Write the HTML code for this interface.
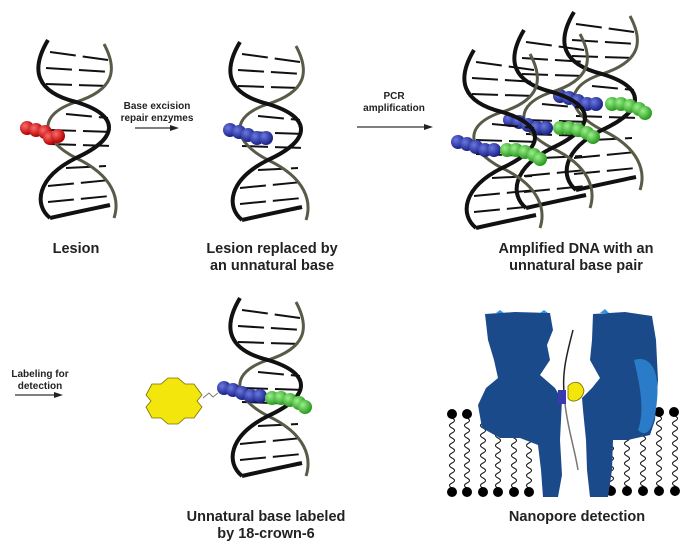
<!DOCTYPE html>
<html><head><meta charset="utf-8"><style>
html,body{margin:0;padding:0;background:#fff}
svg{display:block}
text{font-family:"Liberation Sans",sans-serif;font-weight:bold;fill:#222}
</style></head><body>
<svg width="700" height="557" viewBox="0 0 700 557" xmlns="http://www.w3.org/2000/svg">
<defs>
<radialGradient id="rd" cx="35%" cy="35%" r="65%"><stop offset="0" stop-color="#ff6a6a"/><stop offset="1" stop-color="#b00000"/></radialGradient>
<radialGradient id="bl" cx="35%" cy="35%" r="65%"><stop offset="0" stop-color="#6a78e0"/><stop offset="1" stop-color="#1a2288"/></radialGradient>
<radialGradient id="gr" cx="35%" cy="35%" r="65%"><stop offset="0" stop-color="#9af08a"/><stop offset="1" stop-color="#2a9a20"/></radialGradient>
<g id="helix">
 <g stroke="#111" stroke-width="2" stroke-dasharray="26 7">
  <line x1="14" y1="12" x2="72" y2="20"/><line x1="10" y1="28" x2="74" y2="32"/><line x1="10" y1="44" x2="72" y2="46"/>
  <line x1="30" y1="74" x2="72" y2="78"/><line x1="14" y1="90" x2="78" y2="92"/><line x1="14" y1="104" x2="76" y2="106"/>
  <line x1="30" y1="128" x2="70" y2="126"/><line x1="12" y1="146" x2="74" y2="140"/><line x1="12" y1="162" x2="74" y2="156"/>
 </g>
 <path d="M68,4 C82,30 78,50 40,62 C0,75 5,100 40,118 C78,136 84,160 78,178" fill="none" stroke="#5a5a48" stroke-width="3"/>
 <path d="M12,0 C-6,30 0,52 40,62 C84,75 84,98 40,118 C0,138 -2,165 14,178 M14,178 C40,172 60,168 74,165" fill="none" stroke="#111" stroke-width="4"/>
</g>
<g id="sb"><circle cx="0" cy="0" r="7" fill="url(#bl)"/><circle cx="9" cy="2" r="7" fill="url(#bl)"/><circle cx="18" cy="5" r="7" fill="url(#bl)"/><circle cx="27" cy="8" r="7" fill="url(#bl)"/><circle cx="36" cy="8" r="7" fill="url(#bl)"/></g>
<g id="sg"><circle cx="0" cy="0" r="7" fill="url(#gr)"/><circle cx="9" cy="0" r="7" fill="url(#gr)"/><circle cx="18" cy="2" r="7" fill="url(#gr)"/><circle cx="27" cy="5" r="7" fill="url(#gr)"/><circle cx="33" cy="9" r="7" fill="url(#gr)"/></g>
<path id="tail" d="M0,0 q5,2.5 0,5 q-5,2.5 0,5 q5,2.5 0,5 q-5,2.5 0,5 q5,2.5 0,5 q-5,2.5 0,5 q5,2.5 0,5 q-5,2.5 0,5 q5,2.5 0,5 q-5,2.5 0,5 q5,2.5 0,5 q-5,2.5 0,5 q5,2.5 0,5 q-5,2.5 0,5 q5,2.5 0,5" fill="none" stroke="#111" stroke-width="1"/>
</defs>

<!-- helix 1 -->
<use href="#helix" transform="translate(36,40)"/>
<g><circle cx="27" cy="128" r="7" fill="url(#rd)"/><circle cx="36" cy="130" r="7" fill="url(#rd)"/><circle cx="45" cy="132" r="7" fill="url(#rd)"/><circle cx="50" cy="138" r="7" fill="url(#rd)"/><circle cx="58" cy="136" r="7" fill="url(#rd)"/></g>
<!-- helix 2 -->
<use href="#helix" transform="translate(228,42)"/>
<use href="#sb" transform="translate(230,130)"/>
<!-- helix 3 group -->
<use href="#helix" transform="translate(562,12)"/>
<use href="#sb" transform="translate(560,96)"/><use href="#sg" transform="translate(612,104)"/>
<use href="#helix" transform="translate(512,30)"/>
<use href="#sb" transform="translate(510,120)"/><use href="#sg" transform="translate(560,128)"/>
<use href="#helix" transform="translate(462,50)"/>
<use href="#sb" transform="translate(458,142)"/><use href="#sg" transform="translate(507,150)"/>

<!-- helix bottom -->
<use href="#helix" transform="translate(228,298)"/>
<use href="#sb" transform="translate(224,388)"/><use href="#sg" transform="translate(272,398)"/>
<polyline points="203,398 209,393 213,397 218,393" fill="none" stroke="#777" stroke-width="1"/>
<polygon points="168,378 178,378 185,384 194,384 202,395 197,401 202,407 194,418 185,418 178,424 168,424 161,418 152,418 146,407 151,401 146,395 152,384 161,384" fill="#f2e60c" stroke="#776d00" stroke-width="0.8"/>

<!-- arrows -->
<g stroke="#333" stroke-width="1.3"><line x1="135" y1="128" x2="172" y2="128"/><line x1="357" y1="127" x2="426" y2="127"/><line x1="15" y1="395" x2="56" y2="395"/></g>
<g fill="#222"><polygon points="179,128 170,125 170,131"/><polygon points="433,127 424,124 424,130"/><polygon points="63,395 54,392 54,398"/></g>
<g font-size="10" text-anchor="middle">
<text x="157" y="109">Base excision</text><text x="157" y="121">repair enzymes</text>
<text x="394" y="99">PCR</text><text x="394" y="111">amplification</text>
<text x="40" y="377">Labeling for</text><text x="40" y="389">detection</text>
</g>
<g font-size="14.5" text-anchor="middle">
<text x="76" y="253">Lesion</text>
<text x="272" y="253">Lesion replaced by</text><text x="272" y="270">an unnatural base</text>
<text x="576" y="253">Amplified DNA with an</text><text x="576" y="270">unnatural base pair</text>
<text x="266" y="521">Unnatural base labeled</text><text x="266" y="538">by 18-crown-6</text>
<text x="577" y="521">Nanopore detection</text>
</g>

<!-- membrane -->
<g>
<use href="#tail" x="452" y="418"/><use href="#tail" x="467" y="418"/><use href="#tail" x="483" y="418"/><use href="#tail" x="498" y="418"/><use href="#tail" x="514" y="418"/><use href="#tail" x="529" y="418"/>
<use href="#tail" x="611" y="416"/><use href="#tail" x="627" y="416"/><use href="#tail" x="643" y="416"/><use href="#tail" x="659" y="416"/><use href="#tail" x="675" y="416"/>
</g>
<g fill="#000">
<circle cx="452" cy="414" r="5"/><circle cx="467" cy="414" r="5"/>
<circle cx="659" cy="412" r="5"/><circle cx="674" cy="412" r="5"/>
<circle cx="452" cy="492" r="5"/><circle cx="467" cy="492" r="5"/><circle cx="483" cy="492" r="5"/><circle cx="498" cy="492" r="5"/><circle cx="514" cy="492" r="5"/><circle cx="529" cy="492" r="5"/>
<circle cx="611" cy="491" r="5"/><circle cx="627" cy="491" r="5"/><circle cx="643" cy="491" r="5"/><circle cx="659" cy="491" r="5"/><circle cx="675" cy="491" r="5"/>
</g>
<!-- proteins -->
<path d="M485,314 L515,312 L550,313 L553,330 L547,345 L550,360 L540,375 L555,388 L562,400 L560,440 L562,475 L558,497 L543,497 L541,470 L538,445 L520,438 L500,438 L482,428 L478,405 L486,388 L498,378 L494,360 L488,340 Z" fill="#1b4a8a"/>
<path d="M593,314 L625,312 L652,316 L656,340 L658,380 L655,420 L650,435 L628,440 L613,440 L612,470 L608,497 L590,497 L587,470 L586,440 L583,410 L582,398 L592,388 L600,378 L590,360 L592,340 Z" fill="#1b4a8a"/>
<path d="M634,360 C650,355 660,370 657,400 C655,425 648,440 638,430 C645,410 640,385 634,360 Z" fill="#2a7cc8"/>
<path d="M496,313 l4,-3 l4,3 z M540,313 l4,-3 l4,3 z M600,313 l5,-4 l4,4 z" fill="#2a9ae0"/>
<path d="M573,330 C568,350 562,370 564,392" fill="none" stroke="#222" stroke-width="1.5"/>
<path d="M565,404 C568,430 575,450 578,470" fill="none" stroke="#777" stroke-width="1.5"/>
<path d="M568,386 C574,380 582,381 584,391 C582,401 572,404 568,398 Z" fill="#f2e60c" stroke="#776d00" stroke-width="0.8"/>
<rect x="558" y="390" width="8" height="14" fill="#3a3ab0"/>
</svg>
</body></html>
